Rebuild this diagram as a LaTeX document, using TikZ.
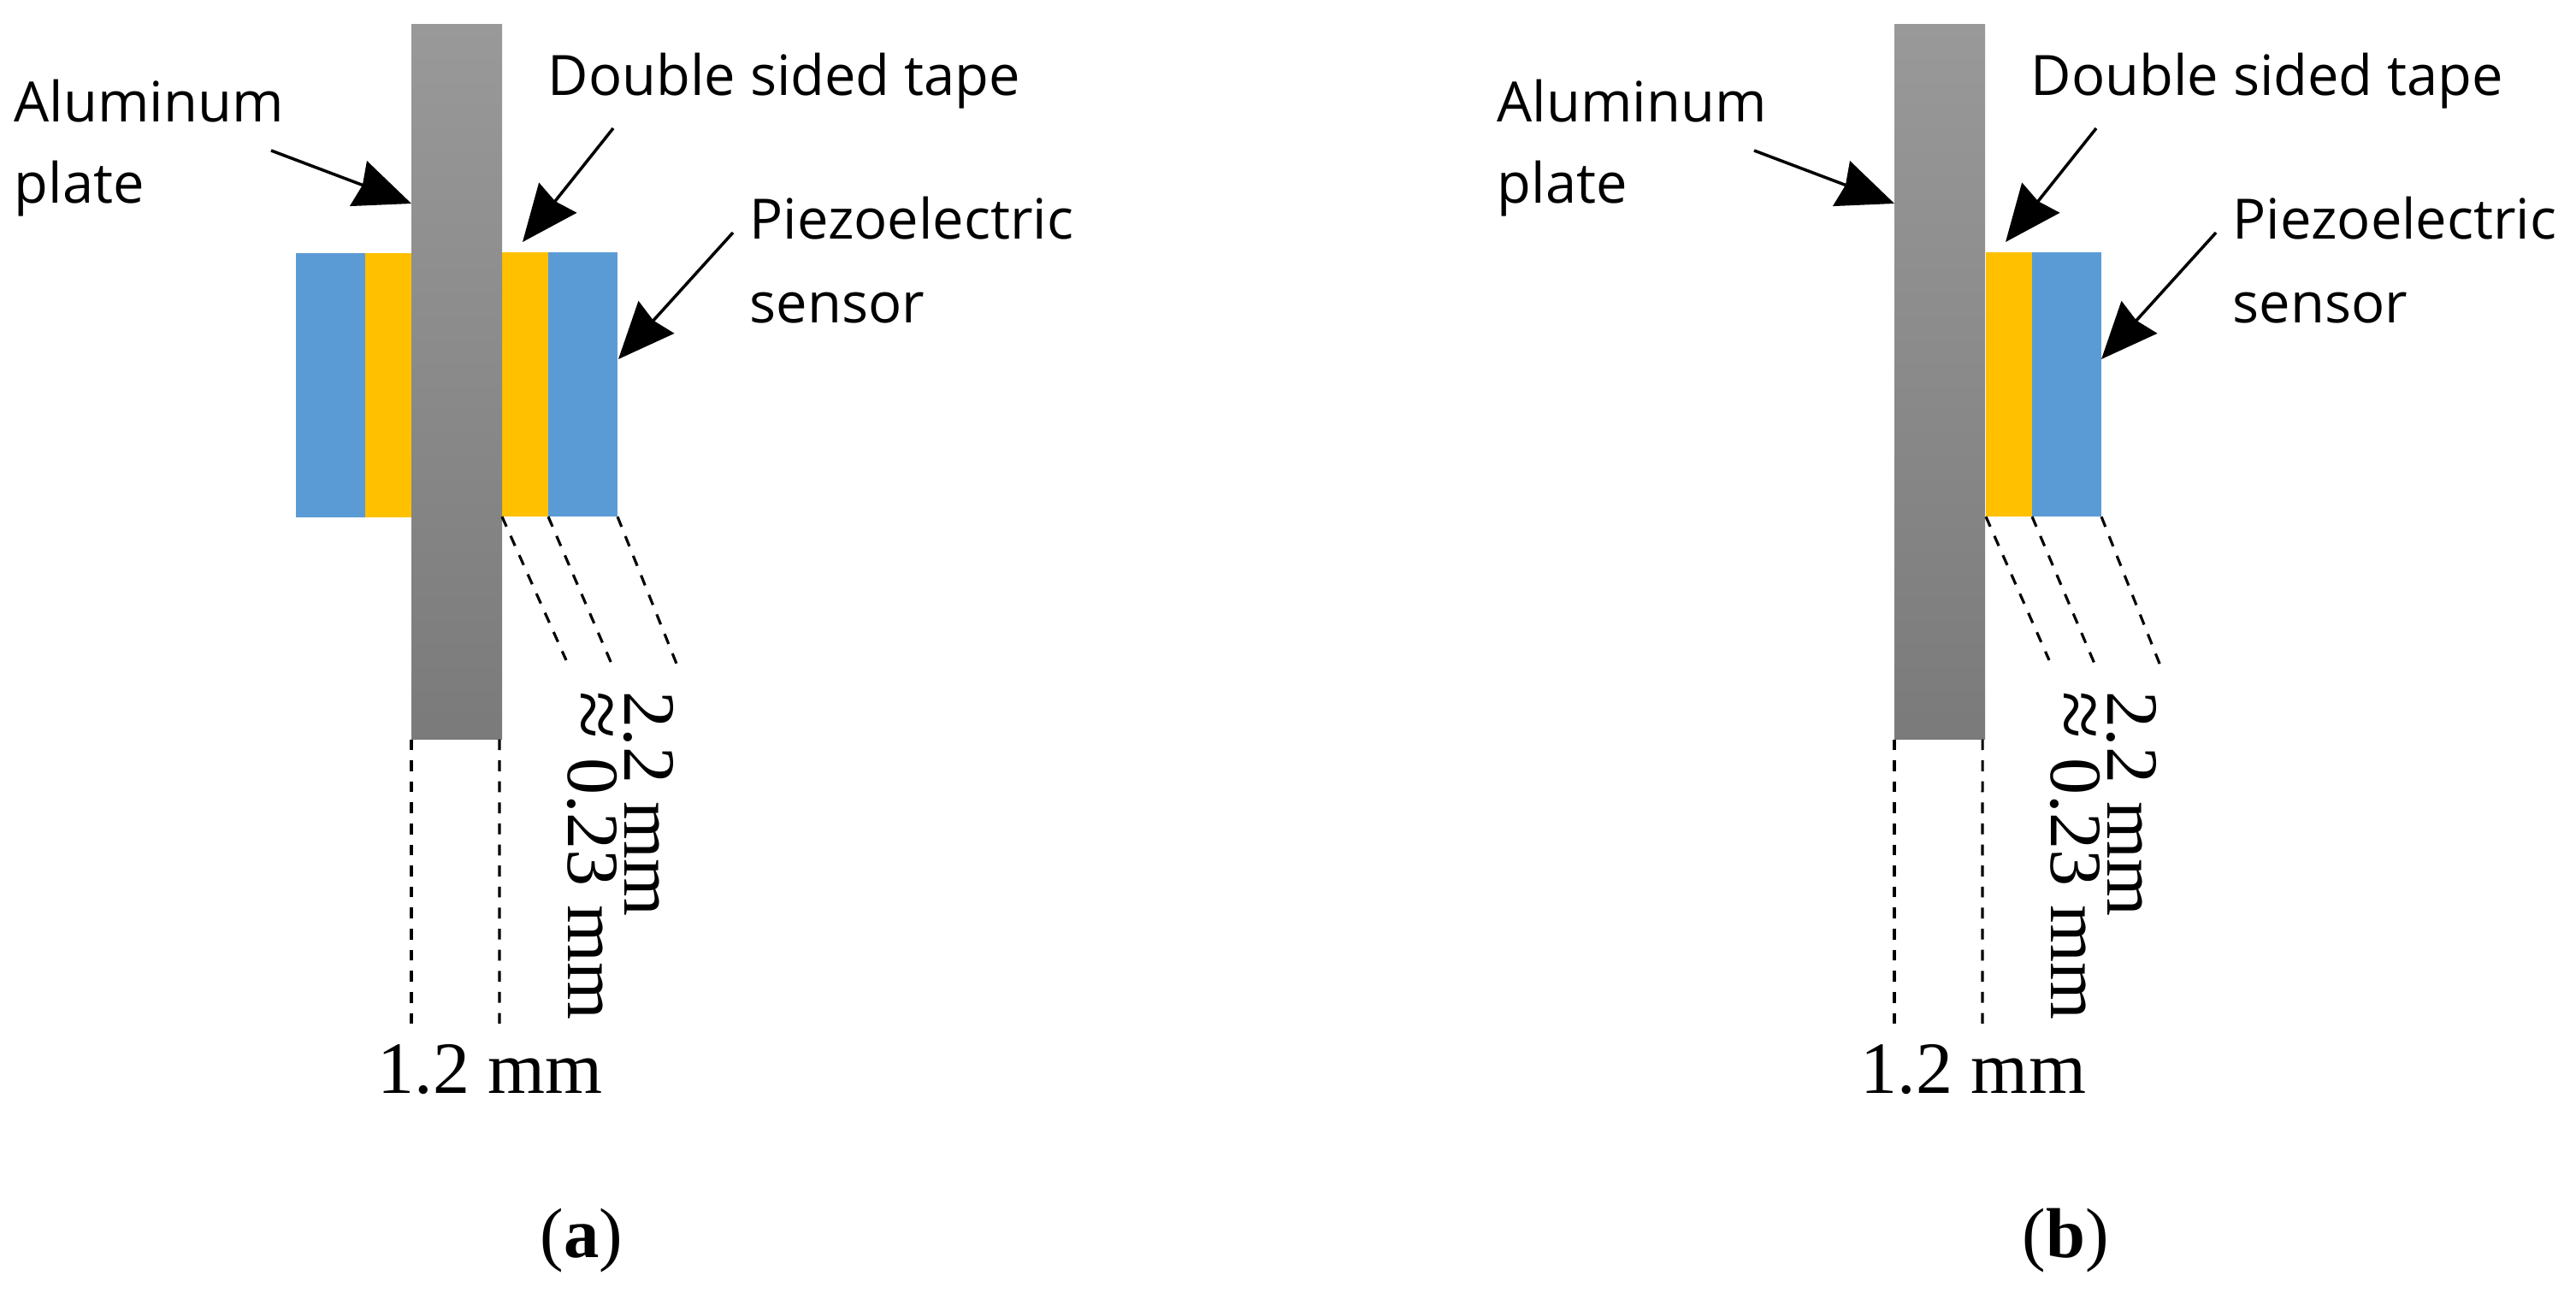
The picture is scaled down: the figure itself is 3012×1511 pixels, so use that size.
\documentclass[tikz,border=0pt]{standalone}
\usepackage{fontspec}
\setmainfont{Liberation Serif}
\newfontfamily\labelfont{Open Sans}
\usepackage{tikz}
\usetikzlibrary{arrows.meta}
\definecolor{sensorblue}{HTML}{5B9BD5}
\definecolor{tapeyellow}{HTML}{FFC000}
\tikzset{
  layer/.style = {anchor=north west, inner sep=0pt, outer sep=0pt,
    minimum height=3.09cm},
  sensor/.style = {layer, fill=sensorblue, minimum width=0.81cm},% piezo layer
  tape/.style = {layer, fill=tapeyellow, minimum width=0.54cm},% adhesive layer
  plate/.style = {anchor=north west, inner sep=0pt, outer sep=0pt,
    top color=black!40, bottom color=black!52,
    minimum width=1.06cm, minimum height=8.36cm},
  callout/.style = {anchor=base west, inner sep=0pt,
    font=\labelfont\fontsize{18.5}{22}\selectfont},
  dimen/.style = {anchor=base west, inner sep=0pt,
    font=\fontsize{24.5}{28}\selectfont},
  tag/.style = {anchor=base, inner sep=0pt,
    font=\fontsize{23.5}{28}\selectfont},
  pointer/.style = {-{Stealth[length=6.6mm, width=5.6mm, inset=0.5mm]}, line width=1pt},
  extent/.style = {dash pattern=on 3.6pt off 3.4pt, line width=0.9pt}
}
\newcommand{\approxsign}{{\fontsize{29}{28}\selectfont≈}}
\begin{document}
\begin{tikzpicture}[x=0.01cm, y=-0.01cm]
    \useasboundingbox (0,0) rectangle (3012,1511);
    % panel a
    \node [sensor] (sensorLa) at (346,296) {};
    \node [tape] (tapeLa) at (427,296) {};
    \node [tape] (tapeRa) at (587,295) {};
    \node [sensor] (sensorRa) at (641,295) {};
    \node [plate] (platea) at (481,28) {};
    \node [callout] (alua) at (16,142) {Aluminum};
    \node [callout] (alub) at (16,237) {plate};
    \node [callout] (tapetxta) at (640,111) {Double sided tape};
    \node [callout] (piezoa) at (876,279) {Piezoelectric};
    \node [callout] (piezob) at (876,377) {sensor};
    \coordinate (p1a) at (317,176);
    \coordinate (t1a) at (481,238);
    \coordinate (p2a) at (717,150);
    \coordinate (t2a) at (611,283);
    \coordinate (p3a) at (857,272);
    \coordinate (t3a) at (723,420);
    \draw [pointer] (p1a) -- (t1a);
    \draw [pointer] (p2a) -- (t2a);
    \draw [pointer] (p3a) -- (t3a);
    \coordinate (e1a) at (662,772);
    \coordinate (e2a) at (715,776);
    \coordinate (e3a) at (793,781);
    \coordinate (e4a) at (481,1202);
    \coordinate (e5a) at (584,1202);
    \draw [extent] (tapeRa.south west) -- (e1a);
    \draw [extent] (tapeRa.south east) -- (e2a);
    \draw [extent] (sensorRa.south east) -- (e3a);
    \draw [extent] (platea.south west) -- (e4a);
    \draw [extent] (platea.south east) ++(-3,0) -- (e5a);
    \node [dimen, rotate=-90] (gapa) at (664,808) {\approxsign{} 0.23 mm};
    \node [dimen, rotate=-90] (widtha) at (730,808) {2.2 mm};
    \node [dimen] (thicka) at (441,1278) {1.2 mm};
    \node [tag] (capa) at (680,1470) {(\textbf{a})};
    % panel b
    \node [tape] (tapeRb) at (2322,295) {};
    \node [sensor] (sensorRb) at (2376,295) {};
    \node [plate] (plateb) at (2215,28) {};
    \node [callout] (aluc) at (1750,142) {Aluminum};
    \node [callout] (alud) at (1750,237) {plate};
    \node [callout] (tapetxtb) at (2374,111) {Double sided tape};
    \node [callout] (piezoc) at (2610,279) {Piezoelectric};
    \node [callout] (piezod) at (2610,377) {sensor};
    \coordinate (p1b) at (2051,176);
    \coordinate (t1b) at (2215,238);
    \coordinate (p2b) at (2451,150);
    \coordinate (t2b) at (2345,283);
    \coordinate (p3b) at (2591,272);
    \coordinate (t3b) at (2457,420);
    \draw [pointer] (p1b) -- (t1b);
    \draw [pointer] (p2b) -- (t2b);
    \draw [pointer] (p3b) -- (t3b);
    \coordinate (e1b) at (2396,772);
    \coordinate (e2b) at (2449,776);
    \coordinate (e3b) at (2527,781);
    \coordinate (e4b) at (2215,1202);
    \coordinate (e5b) at (2318,1202);
    \draw [extent] (tapeRb.south west) -- (e1b);
    \draw [extent] (tapeRb.south east) -- (e2b);
    \draw [extent] (sensorRb.south east) -- (e3b);
    \draw [extent] (plateb.south west) -- (e4b);
    \draw [extent] (plateb.south east) ++(-3,0) -- (e5b);
    \node [dimen, rotate=-90] (gapb) at (2398,808) {\approxsign{} 0.23 mm};
    \node [dimen, rotate=-90] (widthb) at (2464,808) {2.2 mm};
    \node [dimen] (thickb) at (2175,1278) {1.2 mm};
    \node [tag] (capb) at (2415,1470) {(\textbf{b})};
\end{tikzpicture}
\end{document}
